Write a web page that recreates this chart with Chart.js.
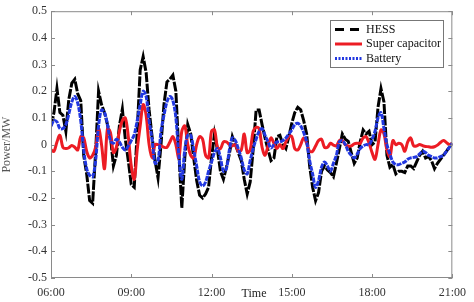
<!DOCTYPE html>
<html lang="en">
<head>
    <meta charset="UTF-8">
    <title>HESS power</title>
    <script src="https://cdn.jsdelivr.net/npm/chart.js"></script>
    <style>
        html, body { margin: 0; padding: 0; background: #fff; }
        #wrap { width: 474px; height: 302px; }
    </style>
</head>
<body>
    <div id="wrap"><canvas id="chart"></canvas></div>

    <script>
        // time grid: 06:00 -> 21:00, one sample every 1/9 h
        const hours = Array.from({ length: 136 }, (_, i) => 6 + i / 9);

        const hessPower = [
            0.07, 0.12, 0.21, 0.12, 0.11, 0.05, 0.17, 0.23, 0.245, 0.19,
            0.165, -0.04, -0.11, -0.21, -0.22, -0.03, 0.20, 0.15, 0.12, 0.075,
            0.03, -0.08, -0.04, 0.07, 0.133, 0.02, -0.06, -0.15, -0.16, 0.05,
            0.28, 0.33, 0.27, 0.13, 0.03, -0.06, -0.125, 0.0, 0.15, 0.235,
            0.245, 0.26, 0.20, -0.03, -0.237, -0.05, 0.075, 0.04, -0.05, -0.135,
            -0.19, -0.20, -0.185, -0.16, -0.05, 0.04, -0.02, -0.10, -0.13, -0.085,
            -0.035, 0.03, 0.0, -0.03, -0.06, -0.13, -0.185, -0.14, -0.02, 0.13,
            0.13, 0.075, 0.025, -0.02, -0.06, -0.05, 0.03, 0.035, 0.0, -0.015,
            0.03, 0.08, 0.12, 0.14, 0.13, 0.09, 0.04, -0.08, -0.16, -0.21,
            -0.18, -0.10, -0.08, -0.095, -0.105, -0.12, -0.07, -0.015, 0.04, 0.02,
            0.012, -0.03, -0.07, -0.05, 0.01, 0.055, 0.04, 0.05, 0.0, 0.01,
            0.14, 0.21, 0.16, -0.04, -0.085, -0.075, -0.11, -0.10, -0.10, -0.105,
            -0.08, -0.08, -0.09, -0.065, -0.04, -0.025, -0.05, -0.045, -0.06, -0.09,
            -0.07, -0.055, -0.04, -0.025, -0.01, 0.005
        ];

        const superCapPower = [
            -0.02, -0.025, 0.01, 0.035, -0.01, -0.015, -0.012, -0.003, -0.01, -0.02,
            0.03, 0.025, -0.025, -0.05, -0.04, -0.01, 0.06, 0.0, -0.09, 0.06,
            0.045, -0.03, -0.01, 0.05, 0.09, 0.10, 0.03, -0.08, -0.13, -0.02,
            0.07, 0.15, 0.11, 0.0, -0.05, 0.0, 0.0, -0.005, -0.01, -0.01,
            0.01, 0.03, 0.0, -0.05, 0.05, 0.07, 0.0, -0.04, -0.05, 0.0,
            0.03, 0.02, -0.04, -0.05, 0.05, 0.055, -0.01, -0.015, 0.01, 0.01,
            0.0, -0.005, 0.0, -0.025, -0.02, 0.04, -0.03, -0.02, 0.05, 0.065,
            0.06, -0.01, -0.04, -0.005, 0.025, 0.005, -0.015, 0.0, -0.015, 0.01,
            0.03, 0.03, -0.015, -0.02, 0.0, 0.025, 0.005, -0.025, -0.025, -0.005,
            0.015, 0.02, -0.01, -0.01, 0.005, -0.002, -0.005, 0.015, 0.015, 0.0,
            -0.005, -0.005, 0.003, 0.005, 0.005, 0.025, 0.03, 0.005, -0.03, -0.055,
            0.0, 0.055, 0.04, -0.02, -0.045, 0.015, 0.0, 0.005, 0.0, -0.025,
            0.01, 0.025, -0.005, -0.005, 0.0, -0.004, -0.007, -0.008, -0.01, -0.008,
            -0.002, 0.008, 0.015, 0.008, 0.0, 0.005
        ];

        const batteryPower = [
            0.07, 0.09, 0.085, 0.06, 0.06, 0.075, 0.115, 0.16, 0.18, 0.155,
            0.09, -0.02, -0.09, -0.115, -0.12, -0.06, 0.07, 0.13, 0.12, 0.075,
            0.015, 0.005, 0.02, 0.01, -0.01, -0.02, -0.005, 0.015, 0.037, 0.09,
            0.15, 0.20, 0.18, 0.09, 0.02, -0.07, -0.06, 0.05, 0.11, 0.16,
            0.18, 0.165, 0.10, -0.04, -0.13, -0.02, 0.035, 0.035, -0.02, -0.08,
            -0.14, -0.155, -0.14, -0.10, -0.065, -0.03, -0.015, -0.05, -0.10, -0.09,
            -0.02, 0.025, 0.015, -0.015, -0.05, -0.095, -0.11, -0.06, -0.015, 0.02,
            0.05, 0.06, 0.035, 0.01, -0.013, 0.0, 0.01, 0.01, 0.015, 0.025,
            0.04, 0.055, 0.075, 0.08, 0.07, 0.045, 0.01, -0.06, -0.11, -0.16,
            -0.135, -0.085, -0.065, -0.08, -0.10, -0.07, -0.04, 0.01, 0.015, 0.0,
            -0.025, -0.04, -0.05, -0.035, -0.015, -0.005, 0.0, 0.0, 0.02, 0.05,
            0.10, 0.12, 0.06, 0.0, -0.035, -0.065, -0.075, -0.075, -0.07, -0.065,
            -0.055, -0.05, -0.048, -0.045, -0.035, -0.025, -0.03, -0.04, -0.045, -0.05,
            -0.05, -0.045, -0.04, -0.025, -0.01, 0.005
        ];

        const xTicks = [6, 9, 12, 15, 18, 21];
        const yTicks = [-0.5, -0.4, -0.3, -0.2, -0.1, 0, 0.1, 0.2, 0.3, 0.4, 0.5];

        const serif = '"Liberation Serif", "DejaVu Serif", serif';
        Chart.defaults.font.family = serif;
        Chart.defaults.font.size = 12;
        Chart.defaults.color = '#333';

        function pairs(values) {
            return values.map((v, i) => ({ x: hours[i], y: v }));
        }

        // box, inward ticks, legend and "Time" label
        const frame = {
            id: 'frame',
            afterDatasetsDraw(chart) {
                const { ctx, chartArea: a, scales } = chart;
                ctx.save();
                ctx.strokeStyle = '#8a8a8a';
                ctx.lineWidth = 1;
                ctx.strokeRect(a.left + 0.5, a.top + 0.5, a.right - a.left - 1, a.bottom - a.top - 1);

                ctx.beginPath();
                xTicks.forEach(t => {
                    const px = Math.round(scales.x.getPixelForValue(t)) + 0.5;
                    ctx.moveTo(px, a.bottom); ctx.lineTo(px, a.bottom - 4);
                    ctx.moveTo(px, a.top); ctx.lineTo(px, a.top + 4);
                });
                yTicks.forEach(t => {
                    const py = Math.round(scales.y.getPixelForValue(t)) + 0.5;
                    ctx.moveTo(a.left, py); ctx.lineTo(a.left + 4, py);
                    ctx.moveTo(a.right, py); ctx.lineTo(a.right - 4, py);
                });
                ctx.stroke();

                // legend
                const lx = 330, ly = 20, lw = 113, lh = 47;
                ctx.fillStyle = '#fff';
                ctx.fillRect(lx, ly, lw, lh);
                ctx.strokeStyle = '#777';
                ctx.strokeRect(lx + 0.5, ly + 0.5, lw, lh);

                chart.data.datasets.forEach((ds, i) => {
                    const y = ly + 9.5 + i * 14.5;
                    ctx.beginPath();
                    ctx.strokeStyle = ds.borderColor;
                    ctx.lineWidth = 3;
                    ctx.setLineDash(ds.legendDash);
                    ctx.moveTo(335, y);
                    ctx.lineTo(362, y);
                    ctx.stroke();
                    ctx.setLineDash([]);
                    ctx.fillStyle = '#111';
                    ctx.font = '12px ' + serif;
                    ctx.textBaseline = 'middle';
                    ctx.textAlign = 'left';
                    ctx.fillText(ds.label, 366, y);
                });

                ctx.fillStyle = '#222';
                ctx.font = '12px ' + serif;
                ctx.textAlign = 'center';
                ctx.textBaseline = 'middle';
                ctx.fillText('Time', 254, 294);
                ctx.restore();
            }
        };

        new Chart(document.getElementById('chart'), {
            type: 'line',
            data: {
                datasets: [
                    {
                        label: 'HESS',
                        data: pairs(hessPower),
                        borderColor: '#000000',
                        borderWidth: 3,
                        borderDash: [10, 1.5],
                        legendDash: [9, 6],
                        tension: 0,
                        order: 3
                    },
                    {
                        label: 'Super capacitor',
                        data: pairs(superCapPower),
                        borderColor: '#ec1c24',
                        borderWidth: 3,
                        legendDash: [],
                        tension: 0.35,
                        order: 2
                    },
                    {
                        label: 'Battery',
                        data: pairs(batteryPower),
                        borderColor: '#2137e0',
                        borderWidth: 3,
                        borderDash: [5, 1],
                        legendDash: [2, 1.5],
                        tension: 0.35,
                        order: 1
                    }
                ]
            },
            options: {
                responsive: true,
                maintainAspectRatio: false,
                animation: false,
                layout: { padding: { top: 8, right: 18, left: 0, bottom: 0 } },
                elements: { point: { radius: 0 } },
                plugins: {
                    legend: { display: false },
                    tooltip: { enabled: false }
                },
                scales: {
                    x: {
                        type: 'linear',
                        min: 6,
                        max: 21,
                        afterFit: s => { s.height = 24; },
                        afterBuildTicks: s => { s.ticks = xTicks.map(v => ({ value: v })); },
                        grid: { display: false, drawTicks: false },
                        border: { display: false },
                        ticks: {
                            padding: 8,
                            maxRotation: 0,
                            callback: v => String(v).padStart(2, '0') + ':00'
                        }
                    },
                    y: {
                        min: -0.5,
                        max: 0.5,
                        afterFit: s => { s.width = 51; },
                        afterBuildTicks: s => { s.ticks = yTicks.map(v => ({ value: v })); },
                        grid: { display: false, drawTicks: false },
                        border: { display: false },
                        ticks: {
                            padding: 4,
                            callback: v => (Math.abs(v) < 1e-9 ? '0' : v.toFixed(1))
                        },
                        title: {
                            display: true,
                            text: 'Power/MW',
                            color: '#555',
                            font: { size: 12 },
                            padding: { top: 0, bottom: 2 }
                        }
                    }
                }
            },
            plugins: [frame]
        });
    </script>
</body>
</html>
